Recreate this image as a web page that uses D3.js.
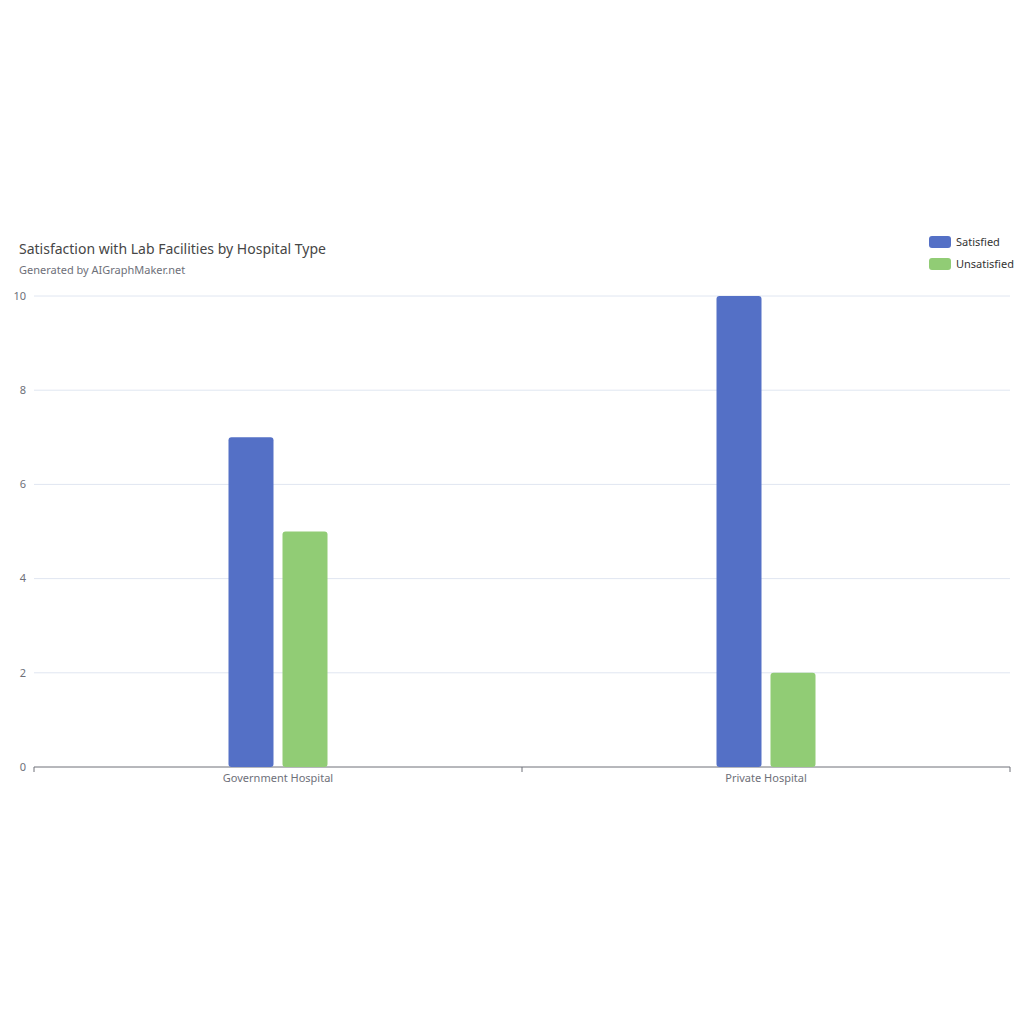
<!DOCTYPE html>
<html>
<head>
<meta charset="utf-8">
<script src="https://cdn.jsdelivr.net/npm/d3@7"></script>
<style>
  body { margin: 0; background: #fff; }
  svg { display: block; font-family: "Noto Sans", "Open Sans", sans-serif; }
</style>
</head>
<body>
<div id="chart"></div>
<script>
// Data
const categories = ["Government Hospital", "Private Hospital"];
const seriesNames = ["Satisfied", "Unsatisfied"];
const satisfied = [7, 10];
const unsatisfied = [5, 2];
const yTicks = [0, 2, 4, 6, 8, 10];
const colors = ["#5470c6", "#91cc75"];

const WIDTH = 1024;
const HEIGHT = 1024;
const margin = { top: 296, right: 14, bottom: 257, left: 34 };
const width = WIDTH - margin.left - margin.right;
const height = HEIGHT - margin.top - margin.bottom;

const svg = d3
  .select("#chart")
  .append("svg")
  .attr("width", WIDTH)
  .attr("height", HEIGHT);

// title + subtitle
svg.append("text")
  .attr("x", 19).attr("y", 254)
  .attr("font-size", 14).attr("fill", "#464646")
  .text("Satisfaction with Lab Facilities by Hospital Type");
svg.append("text")
  .attr("x", 19).attr("y", 274)
  .attr("font-size", 11).attr("fill", "#6e7079")
  .text("Generated by AIGraphMaker.net");

const g = svg.append("g")
  .attr("transform", `translate(${margin.left}, ${margin.top})`);

const x = d3.scaleBand().domain(categories).range([0, width]);
const y = d3.scaleLinear().domain([0, 10]).range([height, 0]);

// grid lines
g.selectAll(".grid")
  .data(yTicks.filter(d => d > 0))
  .join("line")
  .attr("x1", 0).attr("x2", width)
  .attr("y1", d => y(d)).attr("y2", d => y(d))
  .attr("stroke", "#e0e6f1");

// y labels
g.selectAll(".ylab")
  .data(yTicks)
  .join("text")
  .attr("x", -8).attr("y", d => y(d))
  .attr("dy", "0.35em")
  .attr("text-anchor", "end")
  .attr("font-size", 11).attr("fill", "#6e7079")
  .text(d => d);

// x axis
const xAxis = g.append("g")
  .attr("transform", `translate(0, ${height})`)
  .call(d3.axisBottom(x).tickSize(5).tickPadding(4).tickValues([]));
xAxis.select(".domain").attr("stroke", "#6e7079").attr("d", `M0,0H${width}`);
const edges = [0, x.bandwidth(), width];
xAxis.selectAll(".edge")
  .data(edges)
  .join("line")
  .attr("x1", d => d).attr("x2", d => d)
  .attr("y1", 0).attr("y2", 5)
  .attr("stroke", "#6e7079");
xAxis.selectAll(".xlab")
  .data(categories)
  .join("text")
  .attr("x", d => x(d) + x.bandwidth() / 2)
  .attr("y", 15)
  .attr("text-anchor", "middle")
  .attr("font-size", 11).attr("fill", "#6e7079")
  .attr("font-family", "'Noto Sans', sans-serif")
  .text(d => d);

// bars
const barW = 45;
const gap = 9;
const xSub = d3.scaleOrdinal().domain(seriesNames).range([-(barW + gap / 2), gap / 2]);
const rows = categories.map((c, i) => ({ cat: c, values: [satisfied[i], unsatisfied[i]] }));

const groups = g.selectAll(".grp")
  .data(rows)
  .join("g")
  .attr("transform", d => `translate(${x(d.cat) + x.bandwidth() / 2}, 0)`);

groups.selectAll("rect")
  .data(d => d.values.map((v, i) => ({ name: seriesNames[i], value: v })))
  .join("rect")
  .attr("x", d => xSub(d.name))
  .attr("y", d => y(d.value))
  .attr("width", barW)
  .attr("height", d => height - y(d.value))
  .attr("rx", 3)
  .attr("fill", (d, i) => colors[i]);

// legend
const legend = svg.append("g").attr("transform", "translate(929, 236)");
const items = legend.selectAll("g")
  .data(seriesNames)
  .join("g")
  .attr("transform", (d, i) => `translate(0, ${i * 22})`);
items.append("rect")
  .attr("width", 22).attr("height", 12).attr("rx", 3)
  .attr("fill", (d, i) => colors[i]);
items.append("text")
  .attr("x", 27).attr("y", 6).attr("dy", "0.35em")
  .attr("font-size", 11).attr("fill", "#333")
  .text(d => d);
</script>
</body>
</html>
